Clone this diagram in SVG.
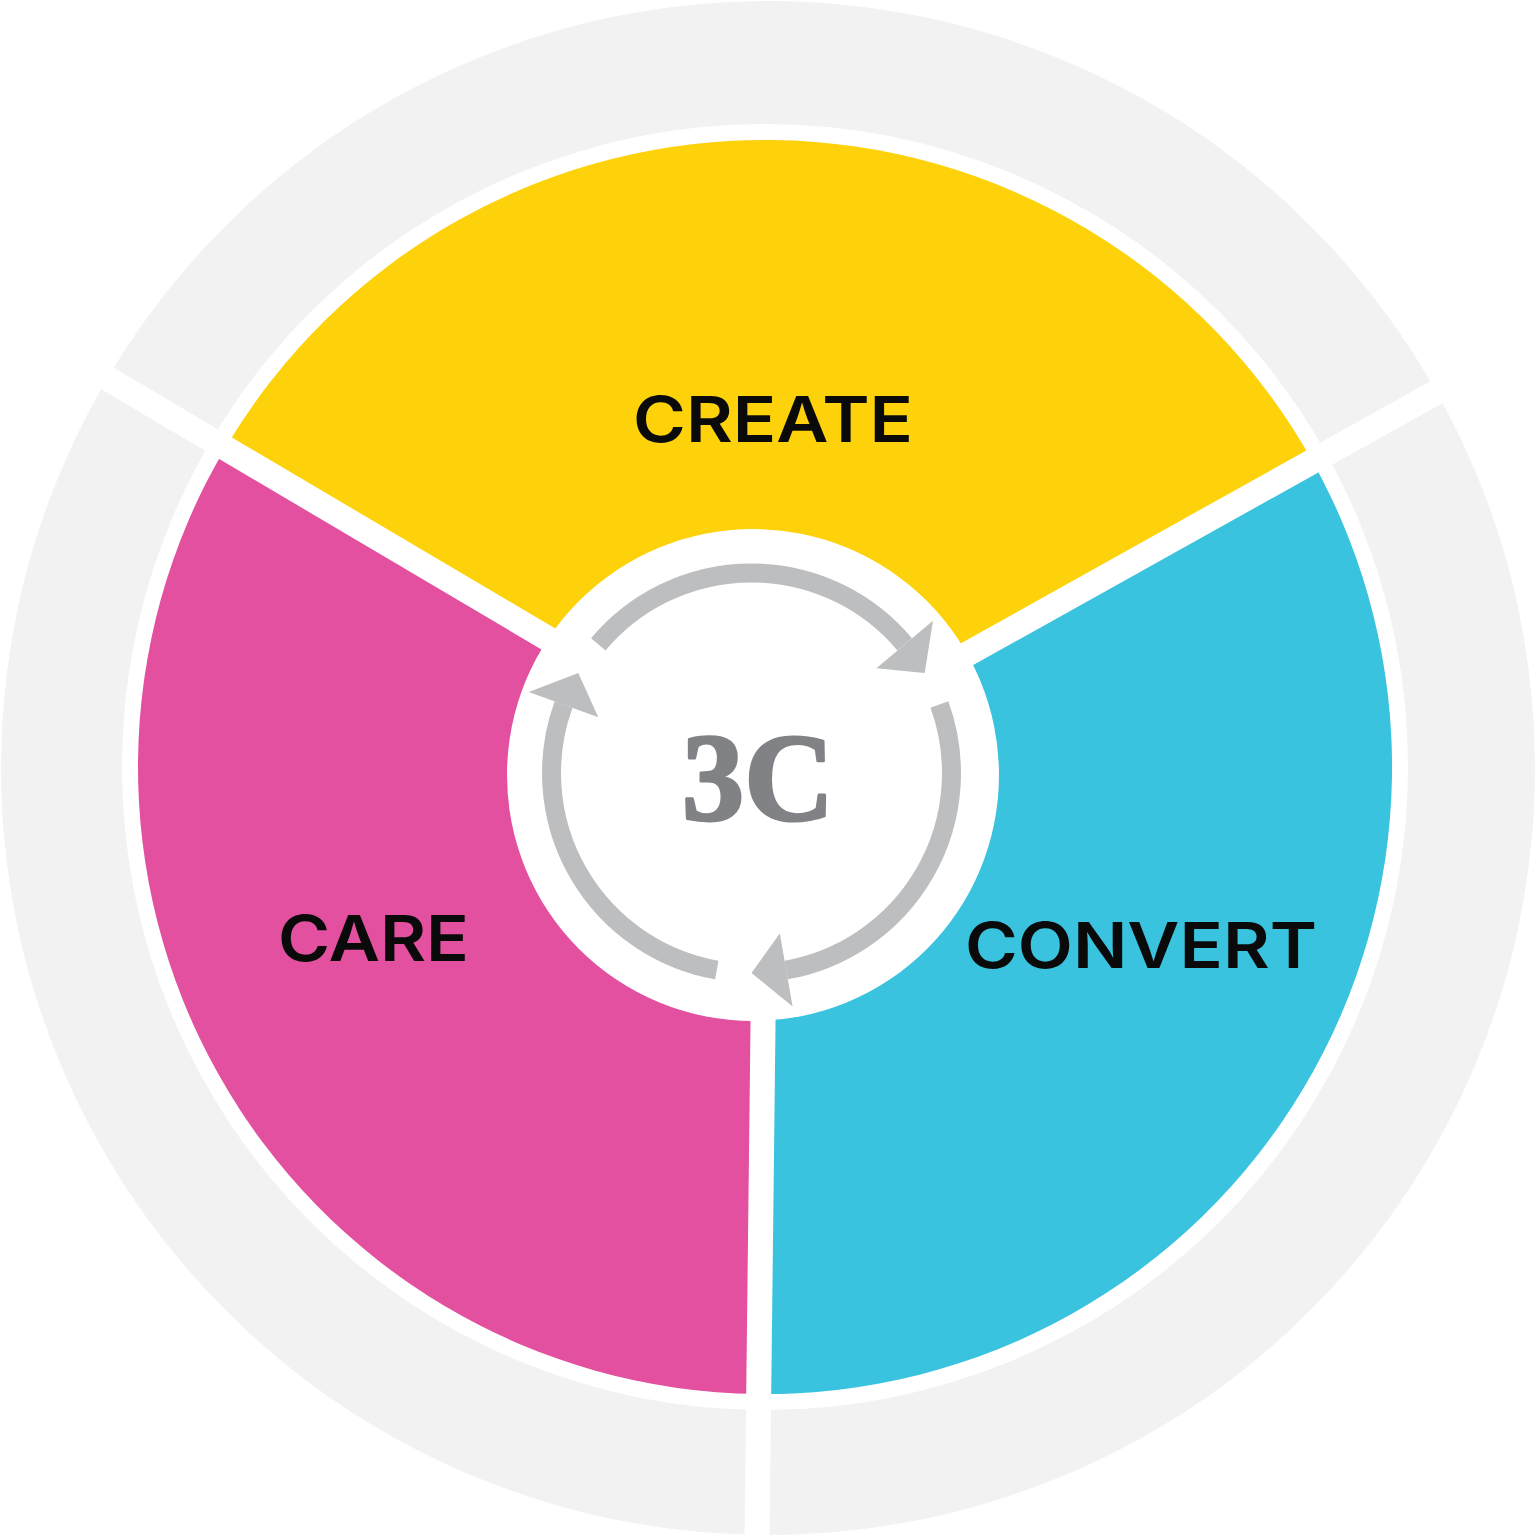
<svg xmlns="http://www.w3.org/2000/svg" width="1536" height="1536" viewBox="0 0 1536 1536">
  <style>
    .label { font-family: Inter, "Noto Sans", "DejaVu Sans", sans-serif; font-weight: 600; font-size: 63px; fill: #0a0a0a; }
    .divider { stroke: #ffffff; stroke-width: 25; fill: none; }
    .arc { stroke: #bcbec0; stroke-width: 19; fill: none; }
    .head { fill: #bcbec0; }
  </style>
  <rect width="1536" height="1536" fill="#ffffff"/>
  <g id="outer-ring">
    <circle cx="768" cy="768" r="767" fill="#f2f2f2"/>
    <circle cx="765" cy="767" r="643" fill="#ffffff"/>
  </g>
  <g id="create">
    <path d="M765,767 L225.3,447.9 A627,627 0 0 1 1313.4,463 Z" fill="#fdd20b"/>
  </g>
  <g id="convert">
    <path d="M765,767 L1313.4,463 A627,627 0 0 1 757.3,1394 Z" fill="#3ac3de"/>
  </g>
  <g id="care">
    <path d="M765,767 L757.3,1394 A627,627 0 0 1 225.3,447.9 Z" fill="#e2509f"/>
  </g>
  <g id="dividers">
    <line class="divider" x1="765" y1="767" x2="-10" y2="309"/>
    <line class="divider" x1="765" y1="767" x2="1546" y2="331"/>
    <line class="divider" x1="766" y1="767" x2="757" y2="1540"/>
  </g>
  <g id="labels">
    <text class="label" x="633" y="442" textLength="280" lengthAdjust="spacingAndGlyphs">CREATE</text>
    <text class="label" x="965" y="968" textLength="352" lengthAdjust="spacingAndGlyphs">CONVERT</text>
    <text class="label" x="278" y="961" textLength="191" lengthAdjust="spacingAndGlyphs">CARE</text>
  </g>
  <g id="center">
    <circle cx="753" cy="775" r="246" fill="#ffffff"/>
    <text x="758" y="820" text-anchor="middle" textLength="152" lengthAdjust="spacingAndGlyphs" font-family="'Liberation Serif', 'DejaVu Serif', serif" font-weight="bold" font-size="124" fill="#808285" stroke="#808285" stroke-width="3" stroke-linejoin="round">3C</text>
  </g>
  <g id="connectors">
    <path class="arc" d="M598.3,644.4 A200,200 0 0 1 904.7,644.4"/>
    <polygon class="head" points="933,620.7 876.4,668.2 924.7,673"/>
    <path class="arc" d="M939.4,704.6 A200,200 0 0 1 786.2,970"/>
    <polygon class="head" points="792.6,1006.4 779.8,933.5 751.5,973"/>
    <path class="arc" d="M716.8,970 A200,200 0 0 1 563.6,704.6"/>
    <polygon class="head" points="528.8,691.9 598.3,717.3 578.3,673"/>
  </g>
</svg>
